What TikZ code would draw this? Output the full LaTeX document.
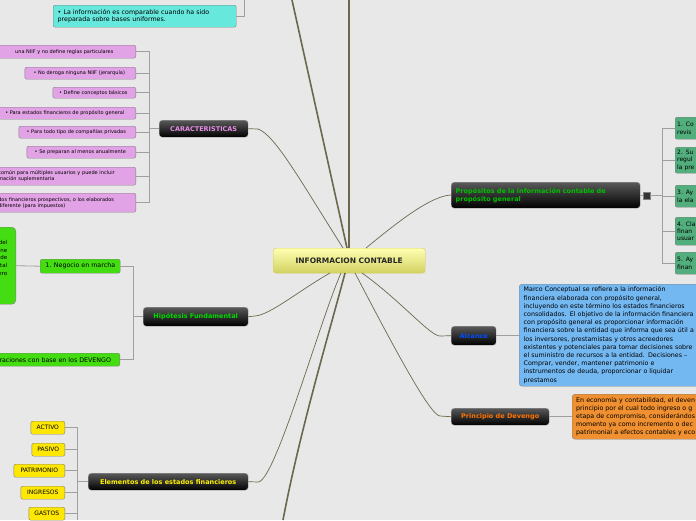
\documentclass[tikz,border=0pt]{standalone}
\usepackage{fontspec}
\setmainfont{DejaVu Sans}
\definecolor{pinkf}{HTML}{E2A2E6}
\definecolor{cyanf}{HTML}{66E8DC}
\definecolor{bluef}{HTML}{74B8F2}
\definecolor{tealf}{HTML}{52AE7C}
\definecolor{greenf}{HTML}{44DD11}
\definecolor{orangef}{HTML}{F09030}
\begin{document}
\begin{tikzpicture}[x=1pt,y=-1pt,
  trunk/.style={draw=black!55!olive!60!gray, line width=1.6pt},
  twig/.style={draw=black!55!olive!60!gray, line width=0.7pt},
  brk/.style={draw=gray!75, line width=0.8pt},
  hub/.style={draw=gray!60, rounded corners=3pt, top color=black!65, bottom color=black, font=\fontsize{6.5}{8}\selectfont\bfseries, inner sep=0pt, anchor=north west},
  leaf/.style={draw=black!50, rounded corners=2pt, inner sep=0pt, anchor=north west, align=left},
  pk/.style={leaf, fill=pinkf, font=\fontsize{5}{6}\selectfont},
  yl/.style={leaf, fill=yellow!90!orange, font=\fontsize{6}{7}\selectfont},
  gr/.style={leaf, fill=greenf, font=\fontsize{6.3}{7.5}\selectfont},
  tg/.style={leaf, fill=tealf, font=\fontsize{6}{7.3}\selectfont},
]
\useasboundingbox (0,0) rectangle (696,520);
\clip (0,0) rectangle (696,520);
\fill[gray!18] (0,0) rectangle (696,520);

% center
\node[draw=yellow!60!gray, rounded corners=3pt, top color=yellow!30, bottom color=yellow!55!gray!80, minimum width=152pt, minimum height=25pt, font=\fontsize{7.5}{9}\selectfont\bfseries, text=black!85, anchor=north west] (c) at (273,248) {INFORMACION CONTABLE};

% hubs
\node[hub, minimum width=89pt, minimum height=17pt, text=violet!40!magenta!45] (car) at (159,120) {CARACTERISTICAS};
\node[hub, minimum width=105pt, minimum height=19pt, text=green!85!black] (hip) at (143,307) {Hipótesis Fundamental};
\node[hub, minimum width=160pt, minimum height=17pt, text=yellow] (ele) at (88,473) {Elementos de los estados financieros};
\node[hub, minimum width=189pt, minimum height=26pt, text=green!75!black, align=left, text width=180pt] (pro) at (451,182) {Propósitos de la información contable de\\propósito general};
\node[hub, minimum width=45pt, minimum height=19pt, text=blue!70!cyan] (alc) at (451,326) {Alcance};
\node[hub, minimum width=98pt, minimum height=17pt, text=orange!90!red] (dev) at (451,408) {Principio de Devengo};
\node[draw=gray, fill=black!80, minimum width=7pt, minimum height=7pt, inner sep=0pt, anchor=north west] (ico) at (643,192) {};

% trunks
\coordinate (t1) at (292,0);
\coordinate (t2) at (349,0);
\coordinate (t3) at (283,520);
\draw[trunk] (347,248) -- (t1);
\draw[trunk] (349,248) -- (t2);
\draw[trunk] (345,273) .. controls (330,330) and (300,430) .. (t3);
\draw[twig] (343,248) .. controls (300,180) and (275,135) .. (258,129) -- (car.east);
\draw[twig] (366,248) .. controls (400,220) and (430,197) .. (450,195) -- (pro.west);
\draw[twig] (330,273) .. controls (300,290) and (270,315) .. (255,316) -- (hip.east);
\draw[twig] (362,273) .. controls (400,300) and (430,336) .. (440,336) -- (alc.west);
\draw[twig] (355,273) .. controls (390,340) and (430,416) .. (440,416) -- (dev.west);
\draw[twig] (341,273) .. controls (320,320) and (275,482) .. (258,482) -- (ele.east);

% cyan box top
\node[leaf, fill=cyanf, font=\fontsize{6.3}{7.5}\selectfont, minimum width=183pt, minimum height=22pt, text width=178pt] (cy) at (53,5) {\hspace{2pt}• La información es comparable cuando ha sido\\\hspace{2pt}preparada sobre bases uniformes.};
\coordinate (cyt) at (244,0);
\draw[brk] (cy.east) -| (cyt);

% caracteristicas children
\foreach \n/\y/\h/\w/\t in {
 p1/45/13/141/{una NIIF y no define reglas particulares},
 p2/67/12/111/{• No deroga ninguna NIIF (jerarquía)},
 p3/87/11/83/{• Define conceptos básicos},
 p4/107/12/140/{• Para estados financieros de propósito general},
 p5/126/12/117/{• Para todo tipo de compañías privadas},
 p6/146/12/109/{• Se preparan al menos anualmente}}{
 \node[pk, minimum width=\w pt, minimum height=\h pt, anchor=north east] (\n) at (136,\y) {\t\hspace{2pt}};
 \draw[brk] (car.west) -- ++(-10,0) |- (\n.east);
}
\node[pk, anchor=north east, minimum width=145pt, minimum height=18pt, text width=130pt] (p7) at (136,167) {común para múltiples usuarios y puede incluir\\mación suplementaria};
\node[pk, anchor=north east, minimum width=145pt, minimum height=19pt, text width=130pt] (p8) at (136,193) {dos financieros prospectivos, o los elaborados\\ diferente (para impuestos)};
\draw[brk] (car.west) -- ++(-10,0) |- (p7.east);
\draw[brk] (car.west) -- ++(-10,0) |- (p8.east);

% hipotesis children
\node[gr, minimum width=80pt, minimum height=14pt, align=center] (h1) at (40,259) {1. Negocio en marcha};
\node[gr, anchor=north east, minimum width=26pt, minimum height=77pt, rounded corners=4pt, align=right, font=\fontsize{5.5}{7.6}\selectfont] (h1a) at (16,227) {del\\ne\\de\\ tal\\ero\\[8pt]};
\node[gr, anchor=north east, minimum width=130pt, minimum height=13pt] (h2) at (120,353) {eraciones con base en los DEVENGO\hspace{3pt}};
\draw[brk] (hip.west) -- ++(-10,0) |- (h1.east);
\draw[brk] (hip.west) -- ++(-10,0) |- (h2.east);
\draw[brk] (h1.west) -- (h1a.east);

% elementos children
\foreach \n/\y/\w/\t in {e1/421/34/ACTIVO, e2/443/33/PASIVO, e3/464/51/PATRIMONIO, e4/486/44/INGRESOS, e5/507/36/GASTOS}{
 \node[yl, anchor=north east, minimum width=\w pt, minimum height=13pt, align=center] (\n) at (65,\y) {\t};
 \draw[brk] (ele.west) -- ++(-11,0) |- (\n.east);
}
\coordinate (eb) at (77,520);
\draw[brk] (ele.west) -- ++(-11,0) -- (eb);

% propositos children
\draw[brk] (pro.east) -- (ico.west);
\foreach \n/\y/\h/\t in {g1/117/22/{1. Co\\revis}, g2/147/26/{2. Su\\regul\\la pre}, g3/185/22/{3. Ay\\la ela}, g4/217/28/{4. Cla\\finan\\usuar}, g5/252/22/{5. Ay\\finan}}{
 \node[tg, minimum width=30pt, minimum height=\h pt, text width=26pt] (\n) at (675,\y) {\t};
 \draw[brk] (ico.east) -- ++(12,0) |- (\n.west);
}

% alcance text
\node[leaf, fill=bluef, rounded corners=3pt, minimum width=185pt, minimum height=102pt, text width=180pt, font=\fontsize{6.3}{8.2}\selectfont] (alt) at (519,284) {\hspace{2pt}Marco Conceptual se refiere a la información\\
\hspace{2pt}financiera elaborada con propósito general,\\
\hspace{2pt}incluyendo en este término los estados financieros\\
\hspace{2pt}consolidados. El objetivo de la información financiera\\
\hspace{2pt}con propósito general es proporcionar información\\
\hspace{2pt}financiera sobre la entidad que informa que sea útil a\\
\hspace{2pt}los inversores, prestamistas y otros acreedores\\
\hspace{2pt}existentes y potenciales para tomar decisiones sobre\\
\hspace{2pt}el suministro de recursos a la entidad. Decisiones –\\
\hspace{2pt}Comprar, vender, mantener patrimonio e\\
\hspace{2pt}instrumentos de deuda, proporcionar o liquidar\\
\hspace{2pt}prestamos};
\draw[brk] (alc.east) -- (alt.west |- alc.east);

% devengo text
\node[leaf, fill=orangef, rounded corners=3pt, minimum width=132pt, minimum height=45pt, text width=128pt, font=\fontsize{6.3}{8.2}\selectfont] (dvt) at (572,394) {\hspace{2pt}En economía y contabilidad, el deven\\
\hspace{2pt}principio por el cual todo ingreso o g\\
\hspace{2pt}etapa de compromiso, considerándos\\
\hspace{2pt}momento ya como incremento o dec\\
\hspace{2pt}patrimonial a efectos contables y eco};
\draw[brk] (dev.east) -- (dvt.west |- dev.east);
\end{tikzpicture}
\end{document}
